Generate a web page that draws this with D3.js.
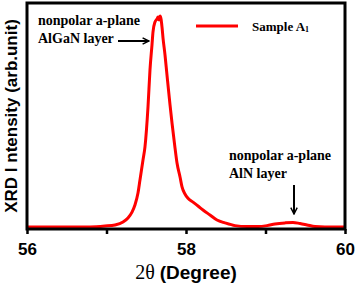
<!DOCTYPE html>
<html><head><meta charset="utf-8">
<script src="https://cdn.jsdelivr.net/npm/d3@7"></script>
<style>body{margin:0;background:#fff}svg{display:block}</style>
</head><body>
<script>
const theta = [56.000,56.415,56.792,56.981,57.107,57.208,57.270,57.321,57.358,57.396,57.421,57.459,57.484,57.522,57.547,57.572,57.585,57.610,57.635,57.648,57.660,57.673,57.686,57.698,57.711,57.736,57.761,57.799,57.824,57.862,57.887,57.925,57.950,57.987,58.025,58.088,58.151,58.214,58.302,58.390,58.491,58.616,58.767,58.906,59.019,59.119,59.245,59.346,59.434,59.522,59.623,59.748,60.000];
const intensity = [0.9,0.9,0.9,1.3,1.8,3.1,4.9,7.5,10.6,15.9,21.7,30.5,36.3,54.0,70.4,81.4,87.2,91.6,92.9,93.8,92.5,94.2,92.9,89.4,84.5,77.0,68.1,54.9,46.9,35.8,29.2,23.0,18.6,15.5,13.6,11.9,10.2,8.4,6.2,4.0,2.7,1.5,1.1,1.1,1.5,2.2,2.7,2.9,2.4,1.8,1.1,0.9,0.9];
const xTicks = [56,57,58,59,60];
const xTickLabels = ["56","","58","","60"];
const seriesName = "Sample A";

const W=357,H=285, L=27,R=345,T=3,B=229;
const svg=d3.select("body").append("svg").attr("width",W).attr("height",H);
const x=d3.scaleLinear().domain([56,60]).range([L,R]);
const y=d3.scaleLinear().domain([0,100]).range([B,T]);

const sans="'Liberation Sans', Arial, sans-serif";
const serif="'Liberation Serif', 'Times New Roman', serif";

// curve
svg.append("path").datum(theta.map((t,i)=>[t,intensity[i]]))
 .attr("d",d3.line().x(d=>x(d[0])).y(d=>y(d[1])).curve(d3.curveMonotoneX))
 .attr("fill","none").attr("stroke","#ff0000").attr("stroke-width",3).attr("stroke-linejoin","round");

// frame
svg.append("rect").attr("x",L).attr("y",T).attr("width",R-L).attr("height",B-T)
 .attr("fill","none").attr("stroke","#000").attr("stroke-width",3);

// x axis
const ax=d3.axisBottom(x).tickValues(xTicks).tickSize(5).tickFormat((d,i)=>xTickLabels[i]);
const g=svg.append("g").attr("transform",`translate(0,${B})`).call(ax);
g.select(".domain").remove();
g.selectAll(".tick line").attr("stroke","#000").attr("stroke-width",2.5);
g.selectAll(".tick text").attr("font-family",sans).attr("font-weight","bold").attr("font-size",17).attr("fill","#000").attr("dy","1.05em");

// axis titles
const xt=svg.append("text").attr("x",186).attr("y",279).attr("text-anchor","middle").attr("font-size",19).attr("fill","#000");
xt.append("tspan").attr("font-family",serif).attr("font-size",20).text("2θ ");
xt.append("tspan").attr("font-family",sans).attr("font-weight","bold").text("(Degree)");
svg.append("text").attr("transform","translate(17,116) rotate(-90)").attr("text-anchor","middle")
 .attr("font-family",sans).attr("font-weight","bold").attr("font-size",17).attr("fill","#000").text("XRD I ntensity (arb.unit)");

// legend
svg.append("line").attr("x1",196).attr("x2",238).attr("y1",26).attr("y2",26).attr("stroke","#ff0000").attr("stroke-width",3);
const lt=svg.append("text").attr("x",252).attr("y",31).attr("font-family",serif).attr("font-weight","bold").attr("font-size",13).attr("fill","#000");
lt.append("tspan").text(seriesName);
lt.append("tspan").attr("font-size",8).attr("dy",1).text("1");

// annotations
const ann=(tx,ty,lines)=>{lines.forEach((s,i)=>svg.append("text").attr("x",tx).attr("y",ty+i*18).attr("font-family",serif).attr("font-weight","bold").attr("font-size",14).attr("fill","#000").text(s));};
ann(38,25,["nonpolar a-plane","AlGaN layer"]);
ann(229,160,["nonpolar a-plane","AlN layer"]);

const defs=svg.append("defs");
defs.append("marker").attr("id","ah").attr("viewBox","0 0 10 10").attr("refX",9).attr("refY",5)
 .attr("markerWidth",8).attr("markerHeight",8).attr("markerUnits","userSpaceOnUse").attr("orient","auto")
 .append("path").attr("d","M1,1 L9,5 L1,9").attr("fill","none").attr("stroke","#000").attr("stroke-width",1.8);
svg.append("line").attr("x1",118).attr("x2",149).attr("y1",41).attr("y2",41).attr("stroke","#000").attr("stroke-width",2).attr("marker-end","url(#ah)");
svg.append("line").attr("x1",294).attr("x2",294).attr("y1",185).attr("y2",214).attr("stroke","#000").attr("stroke-width",2).attr("marker-end","url(#ah)");
</script>
</body></html>
